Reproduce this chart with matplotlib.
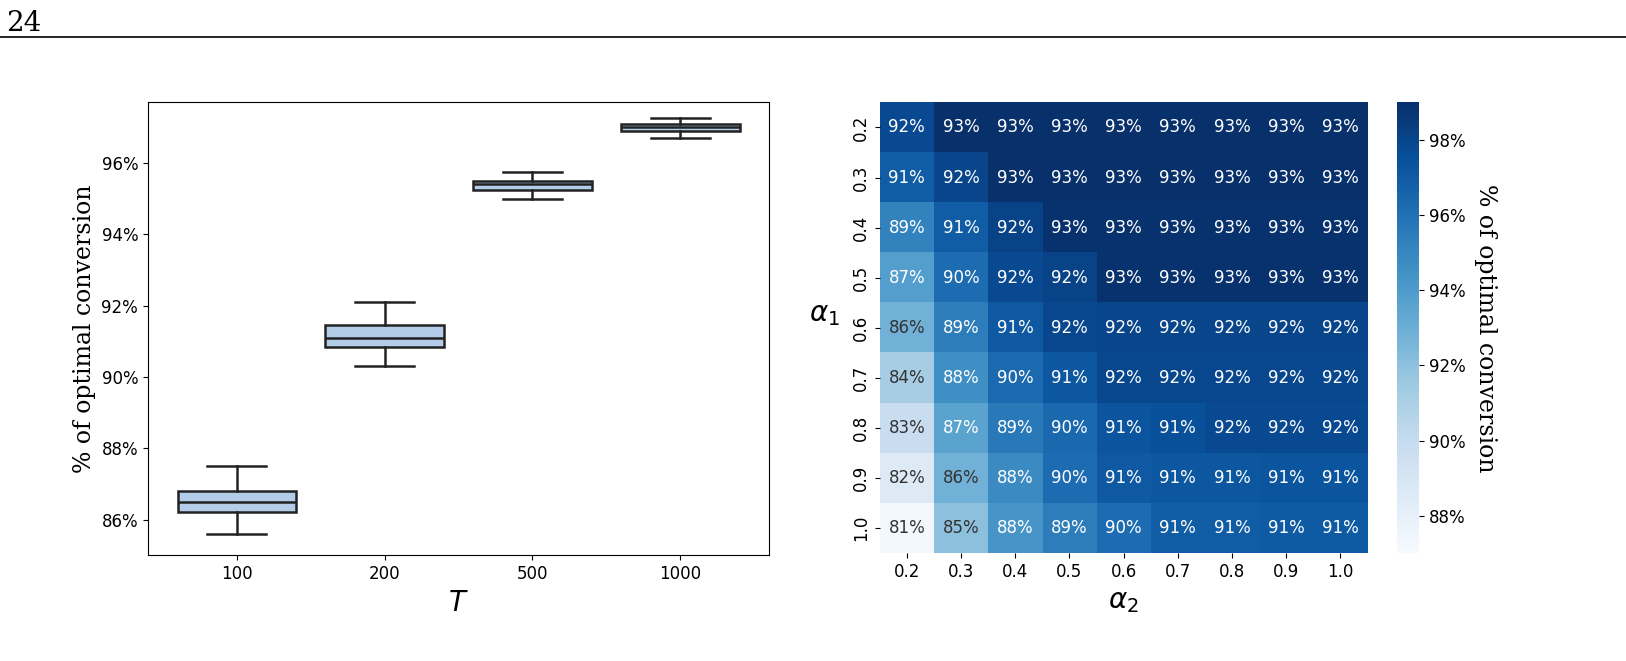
import numpy as np
import matplotlib.pyplot as plt
from matplotlib.ticker import FuncFormatter

# left panel: box stats per horizon T
horizons = ["100", "200", "500", "1000"]
whisker_lo = [85.6, 90.3, 95.0, 96.7]
q1 = [86.2, 90.85, 95.25, 96.9]
medians = [86.5, 91.1, 95.4, 97.0]
q3 = [86.8, 91.45, 95.5, 97.1]
whisker_hi = [87.5, 92.1, 95.75, 97.25]

# right panel: grid of alpha values
alpha1 = ["0.2", "0.3", "0.4", "0.5", "0.6", "0.7", "0.8", "0.9", "1.0"]
alpha2 = ["0.2", "0.3", "0.4", "0.5", "0.6", "0.7", "0.8", "0.9", "1.0"]
annot_vals = np.array([
    [92, 93, 93, 93, 93, 93, 93, 93, 93],
    [91, 92, 93, 93, 93, 93, 93, 93, 93],
    [89, 91, 92, 93, 93, 93, 93, 93, 93],
    [87, 90, 92, 92, 93, 93, 93, 93, 93],
    [86, 89, 91, 92, 92, 92, 92, 92, 92],
    [84, 88, 90, 91, 92, 92, 92, 92, 92],
    [83, 87, 89, 90, 91, 91, 92, 92, 92],
    [82, 86, 88, 90, 91, 91, 91, 91, 91],
    [81, 85, 88, 89, 90, 91, 91, 91, 91],
])
color_vals = np.array([
    [97.8, 99.0, 99.0, 99.0, 99.0, 99.0, 99.0, 99.0, 99.0],
    [96.9, 98.0, 99.0, 99.0, 99.0, 99.0, 99.0, 99.0, 99.0],
    [95.2, 96.9, 98.1, 98.9, 98.9, 98.9, 98.9, 98.9, 98.9],
    [93.8, 96.2, 97.8, 98.1, 98.9, 98.9, 98.9, 98.9, 98.9],
    [92.8, 95.4, 97.1, 97.9, 98.0, 98.0, 98.0, 98.0, 98.0],
    [91.2, 94.6, 96.3, 97.2, 97.9, 97.9, 97.9, 97.9, 97.9],
    [89.8, 93.6, 95.6, 96.4, 97.3, 97.5, 97.8, 97.8, 97.8],
    [88.5, 92.8, 94.8, 96.2, 97.1, 97.2, 97.2, 97.3, 97.3],
    [87.2, 92.0, 94.3, 95.4, 96.2, 96.9, 96.9, 97.0, 97.0],
])

fig = plt.figure(figsize=(16.26, 6.61), dpi=100)
fig.text(0.004, 0.965, "24", fontsize=20, family="DejaVu Serif", va="center")
fig.add_artist(plt.Line2D([0, 1], [0.944, 0.944], color="black", lw=1.2))

# ---- boxplot ----
ax = fig.add_axes([0.091, 0.16, 0.382, 0.685])
stats = [dict(whislo=a, q1=b, med=c, q3=d, whishi=e, fliers=[])
         for a, b, c, d, e in zip(whisker_lo, q1, medians, q3, whisker_hi)]
ax.bxp(stats, positions=range(len(horizons)), widths=0.8, patch_artist=True,
       boxprops=dict(facecolor="#b3cde8", edgecolor="#222222", lw=1.8),
       medianprops=dict(color="#222222", lw=1.8),
       whiskerprops=dict(color="#222222", lw=1.8),
       capprops=dict(color="#222222", lw=1.8))
ax.set_xticks(range(len(horizons)), horizons)
ax.set_xlim(-0.6, 3.6)
ax.set_ylim(85.0, 97.7)
ax.set_yticks([86, 88, 90, 92, 94, 96])
ax.yaxis.set_major_formatter(FuncFormatter(lambda v, _: f"{v:.0f}%"))
ax.tick_params(labelsize=12)
ax.set_xlabel("$T$", fontsize=20)
ax.set_ylabel("% of optimal conversion", fontsize=17, family="DejaVu Serif")

# ---- heatmap ----
hx = fig.add_axes([0.541, 0.163, 0.3, 0.682])
im = hx.imshow(color_vals, cmap="Blues", vmin=87, vmax=99, aspect="auto")
for i in range(len(alpha1)):
    for j in range(len(alpha2)):
        c = "#333333" if color_vals[i, j] < 93.3 else "white"
        hx.text(j, i, f"{annot_vals[i, j]}%", ha="center", va="center",
                fontsize=12, color=c)
hx.set_xticks(range(len(alpha2)), alpha2)
hx.set_yticks(range(len(alpha1)), alpha1, rotation=90, va="center")
hx.tick_params(labelsize=12)
for s in hx.spines.values():
    s.set_visible(False)
hx.set_xlabel(r"$\alpha_2$", fontsize=20)
hx.set_ylabel(r"$\alpha_1$", fontsize=20, rotation=0, labelpad=20)

cax = fig.add_axes([0.859, 0.163, 0.014, 0.682])
cb = fig.colorbar(im, cax=cax, ticks=[88, 90, 92, 94, 96, 98])
cb.outline.set_visible(False)
cb.ax.yaxis.set_major_formatter(FuncFormatter(lambda v, _: f"{v:.0f}%"))
cb.ax.tick_params(labelsize=12)
cb.set_label("% of optimal conversion", fontsize=17, family="DejaVu Serif",
             rotation=270, labelpad=22)

fig.savefig("out.png", dpi=100)
